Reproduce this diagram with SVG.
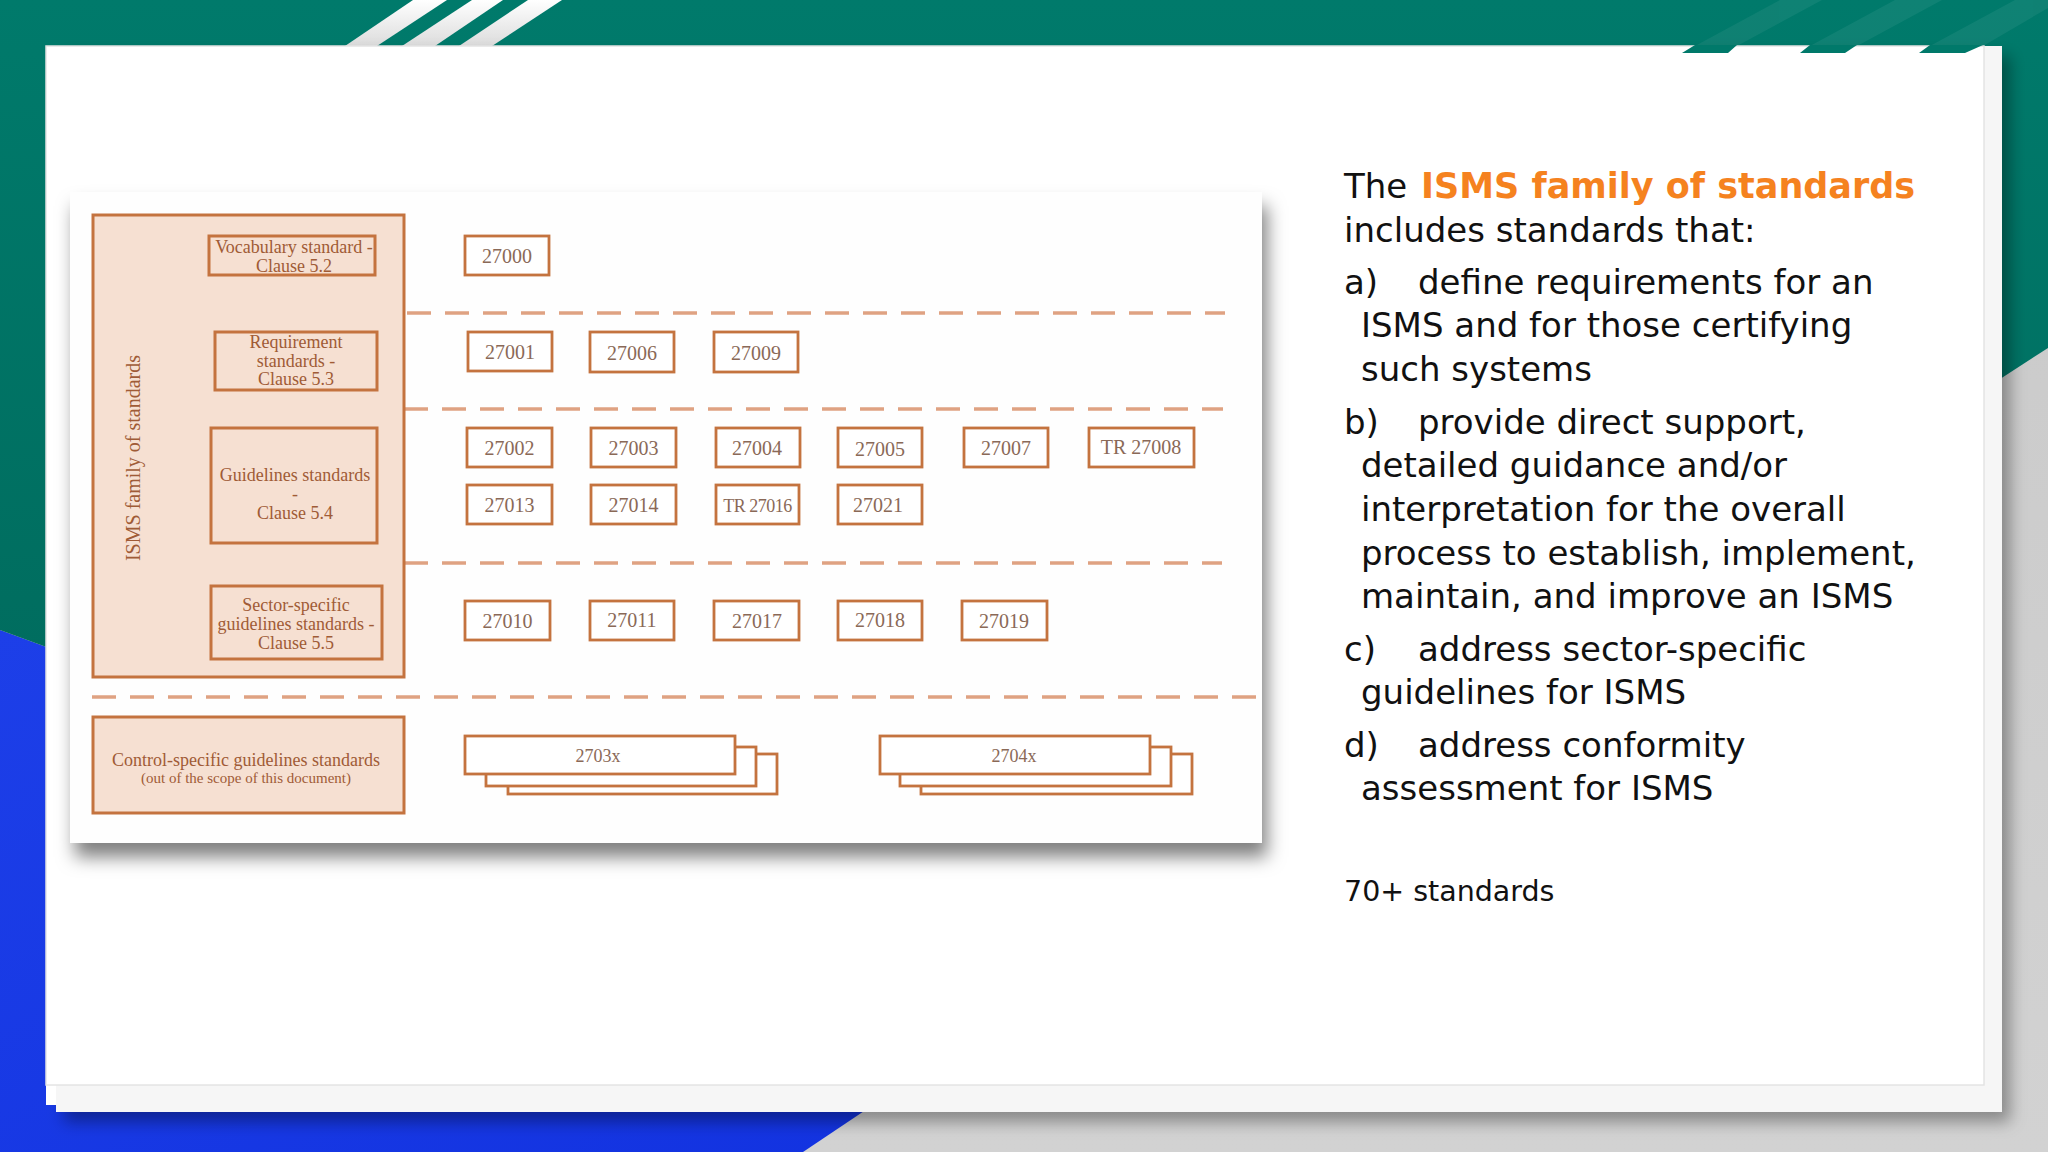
<svg xmlns="http://www.w3.org/2000/svg" width="2048" height="1152" viewBox="0 0 2048 1152">
<defs>
<linearGradient id="tealG" x1="0" y1="0" x2="0" y2="1">
<stop offset="0" stop-color="#007a6b"/><stop offset="1" stop-color="#006d5f"/>
</linearGradient>
<linearGradient id="blueG" x1="0" y1="0" x2="1" y2="1">
<stop offset="0" stop-color="#1d3fe8"/><stop offset="1" stop-color="#1232e0"/>
</linearGradient>
<linearGradient id="greyG" x1="0" y1="0" x2="0" y2="1">
<stop offset="0" stop-color="#c9c9c9"/><stop offset="1" stop-color="#d2d2d2"/>
</linearGradient>
<linearGradient id="stripeG" x1="0" y1="0" x2="0" y2="1">
<stop offset="0" stop-color="#ffffff"/><stop offset="1" stop-color="#dcdcdc"/>
</linearGradient>
<filter id="panelSh" x="-5%" y="-5%" width="110%" height="115%">
<feDropShadow dx="8" dy="10" stdDeviation="8" flood-color="#000" flood-opacity="0.35"/>
</filter>
<filter id="figSh" x="-5%" y="-10%" width="112%" height="125%">
<feDropShadow dx="5" dy="14" stdDeviation="9" flood-color="#000" flood-opacity="0.5"/>
</filter>
<style>
.lbl{font-family:"Liberation Serif","Times New Roman",serif;font-size:18px;fill:#a05b36;text-anchor:middle}
.num{font-family:"Liberation Serif","Times New Roman",serif;font-size:20px;fill:#8a6957;text-anchor:middle}
.big{fill:#f6e0d2;stroke:#c4733f;stroke-width:3}
.box{fill:#ffffff;stroke:#c4733f;stroke-width:2.8}
.dash{stroke:#dfa282;stroke-width:3.5;stroke-dasharray:24 14;fill:none}
.txt{font-family:"DejaVu Sans",Verdana,sans-serif;font-size:34px;fill:#111111}
</style>
</defs>

<!-- background -->
<g id="background">
<rect x="0" y="0" width="2048" height="1152" fill="url(#greyG)"/>
<polygon points="0,630 60,652 1000,1020 803,1152 0,1152" fill="url(#blueG)"/>
<polygon points="0,0 2048,0 2048,348 1960,405 60,652 0,630" fill="url(#tealG)"/>
<polygon points="413,0 447,0 377,46 345,46" fill="url(#stripeG)"/>
<polygon points="472,0 503,0 435,46 402,46" fill="url(#stripeG)"/>
<polygon points="528,0 562,0 492,46 459,46" fill="url(#stripeG)"/>
<g fill="#ffffff" opacity="0.06">
<polygon points="1780,0 1822,0 1737,46 1695,46"/>
<polygon points="1895,0 1942,0 1857,46 1810,46"/>
<polygon points="2015,0 2048,0 2048,8 1983,46 1930,46"/>
</g>
</g>

<!-- slide panel -->
<g id="panel">
<rect x="56" y="46" width="1946" height="1066" fill="#f6f6f6" filter="url(#panelSh)"/>
<rect x="46" y="46" width="10" height="1059" fill="#ffffff"/>
<rect x="46" y="46" width="1938" height="1039" fill="#ffffff" stroke="#e4e4e4" stroke-width="1.5"/>
<g fill="#00796a">
<polygon points="1695,45 1737,45 1728,53 1682,53"/>
<polygon points="1810,45 1857,45 1845,53 1800,53"/>
<polygon points="1930,45 1983,45 1965,53 1919,53"/>
</g>
</g>

<!-- figure -->
<g id="figure">
<rect x="70" y="192" width="1192" height="651" fill="#fefefe" filter="url(#figSh)"/>
</g>

<g id="separators">
<line class="dash" x1="179" y1="313" x2="1225" y2="313"/>
<line class="dash" x1="176" y1="409" x2="1223" y2="409"/>
<line class="dash" x1="176" y1="563" x2="1222" y2="563"/>
<line class="dash" x1="92" y1="697" x2="1256" y2="697"/>
</g>

<g id="isms-family">
<rect class="big" x="93" y="215" width="311" height="462"/>
<text class="lbl" style="font-size:20px" transform="translate(139.5,458) rotate(-90)">ISMS family of standards</text>
</g>
<g id="vocabulary">
<rect class="big" x="209" y="236" width="166" height="39"/>
<text class="lbl" x="294" y="252.5">Vocabulary standard -</text>
<text class="lbl" x="294" y="271.5">Clause 5.2</text>
</g>
<g id="requirement">
<rect class="big" x="215" y="332" width="162" height="58"/>
<text class="lbl" x="296" y="347.5">Requirement</text>
<text class="lbl" x="296" y="366.5">standards -</text>
<text class="lbl" x="296" y="385">Clause 5.3</text>
</g>
<g id="guidelines">
<rect class="big" x="211" y="428" width="166" height="115"/>
<text class="lbl" x="295" y="481">Guidelines standards</text>
<text class="lbl" x="295" y="499.5">-</text>
<text class="lbl" x="295" y="518.5">Clause 5.4</text>
</g>
<g id="sector">
<rect class="big" x="211" y="586" width="171" height="73"/>
<text class="lbl" x="296" y="611">Sector-specific</text>
<text class="lbl" x="296" y="629.5">guidelines standards -</text>
<text class="lbl" x="296" y="648.5">Clause 5.5</text>
</g>
<g id="control">
<rect class="big" x="93" y="717" width="311" height="96"/>
<text class="lbl" x="246" y="766">Control-specific guidelines standards</text>
<text class="lbl" style="font-size:15px" x="246" y="783">(out of the scope of this document)</text>
</g>

<g id="s27000"><rect class="box" x="465" y="236" width="84" height="39"/><text class="num" x="507" y="263">27000</text></g>
<g id="s27001"><rect class="box" x="468" y="332" width="84" height="39"/><text class="num" x="510" y="359">27001</text></g>
<g id="s27006"><rect class="box" x="590" y="332" width="84" height="40"/><text class="num" x="632" y="360">27006</text></g>
<g id="s27009"><rect class="box" x="714" y="332" width="84" height="40"/><text class="num" x="756" y="359.5">27009</text></g>

<g id="s27002"><rect class="box" x="467" y="428" width="85" height="39"/><text class="num" x="509.5" y="455">27002</text></g>
<g id="s27003"><rect class="box" x="591" y="428" width="85" height="39"/><text class="num" x="633.5" y="455">27003</text></g>
<g id="s27004"><rect class="box" x="716" y="428" width="84" height="39"/><text class="num" x="757" y="454.5">27004</text></g>
<g id="s27005"><rect class="box" x="838" y="428" width="84" height="39"/><text class="num" x="880" y="455.5">27005</text></g>
<g id="s27007"><rect class="box" x="964" y="428" width="84" height="39"/><text class="num" x="1006" y="455">27007</text></g>
<g id="s27008"><rect class="box" x="1089" y="428" width="105" height="39"/><text class="num" x="1141" y="454">TR 27008</text></g>

<g id="s27013"><rect class="box" x="467" y="485" width="85" height="39"/><text class="num" x="509.5" y="512">27013</text></g>
<g id="s27014"><rect class="box" x="591" y="485" width="85" height="39"/><text class="num" x="633.5" y="512">27014</text></g>
<g id="s27016"><rect class="box" x="716" y="485" width="83" height="39"/><text class="num" x="757.5" y="511.5" style="font-size:18px;letter-spacing:-0.5px">TR 27016</text></g>
<g id="s27021"><rect class="box" x="838" y="485" width="84" height="39"/><text class="num" x="878" y="511.5">27021</text></g>

<g id="s27010"><rect class="box" x="465" y="601" width="85" height="39"/><text class="num" x="507.5" y="628">27010</text></g>
<g id="s27011"><rect class="box" x="590" y="601" width="84" height="39"/><text class="num" x="632" y="627">27011</text></g>
<g id="s27017"><rect class="box" x="714" y="601" width="85" height="39"/><text class="num" x="757" y="628">27017</text></g>
<g id="s27018"><rect class="box" x="838" y="601" width="84" height="39"/><text class="num" x="880" y="627">27018</text></g>
<g id="s27019"><rect class="box" x="962" y="601" width="85" height="39"/><text class="num" x="1004" y="628">27019</text></g>

<g id="s2703x">
<rect class="box" x="508" y="754" width="269" height="40"/>
<rect class="box" x="486" y="747" width="270" height="39"/>
<rect class="box" x="465" y="736" width="270" height="38"/>
<text class="num" x="598" y="762" style="font-size:18px">2703x</text>
</g>
<g id="s2704x">
<rect class="box" x="921" y="754" width="271" height="40"/>
<rect class="box" x="900" y="747" width="271" height="39"/>
<rect class="box" x="880" y="736" width="270" height="38"/>
<text class="num" x="1014" y="762" style="font-size:18px">2704x</text>
</g>

<g id="description">
<text class="txt" x="1344" y="198">The <tspan x="1421" font-weight="bold" fill="#f5821f" style="font-size:35px">ISMS family of standards</tspan></text>
<text class="txt" x="1344" y="242">includes standards that:</text>
<text class="txt" x="1344" y="293.5">a)<tspan x="1418">define requirements for an</tspan></text>
<text class="txt" x="1361" y="337">ISMS and for those certifying</text>
<text class="txt" x="1361" y="381">such systems</text>
<text class="txt" x="1344" y="434">b)<tspan x="1418">provide direct support,</tspan></text>
<text class="txt" x="1361" y="477">detailed guidance and/or</text>
<text class="txt" x="1361" y="521">interpretation for the overall</text>
<text class="txt" x="1361" y="565">process to establish, implement,</text>
<text class="txt" x="1361" y="608">maintain, and improve an ISMS</text>
<text class="txt" x="1344" y="661">c)<tspan x="1418">address sector-specific</tspan></text>
<text class="txt" x="1361" y="704">guidelines for ISMS</text>
<text class="txt" x="1344" y="757">d)<tspan x="1418">address conformity</tspan></text>
<text class="txt" x="1361" y="800">assessment for ISMS</text>
<text class="txt" x="1344" y="901" style="font-size:28.5px">70+ standards</text>
</g>
</svg>
